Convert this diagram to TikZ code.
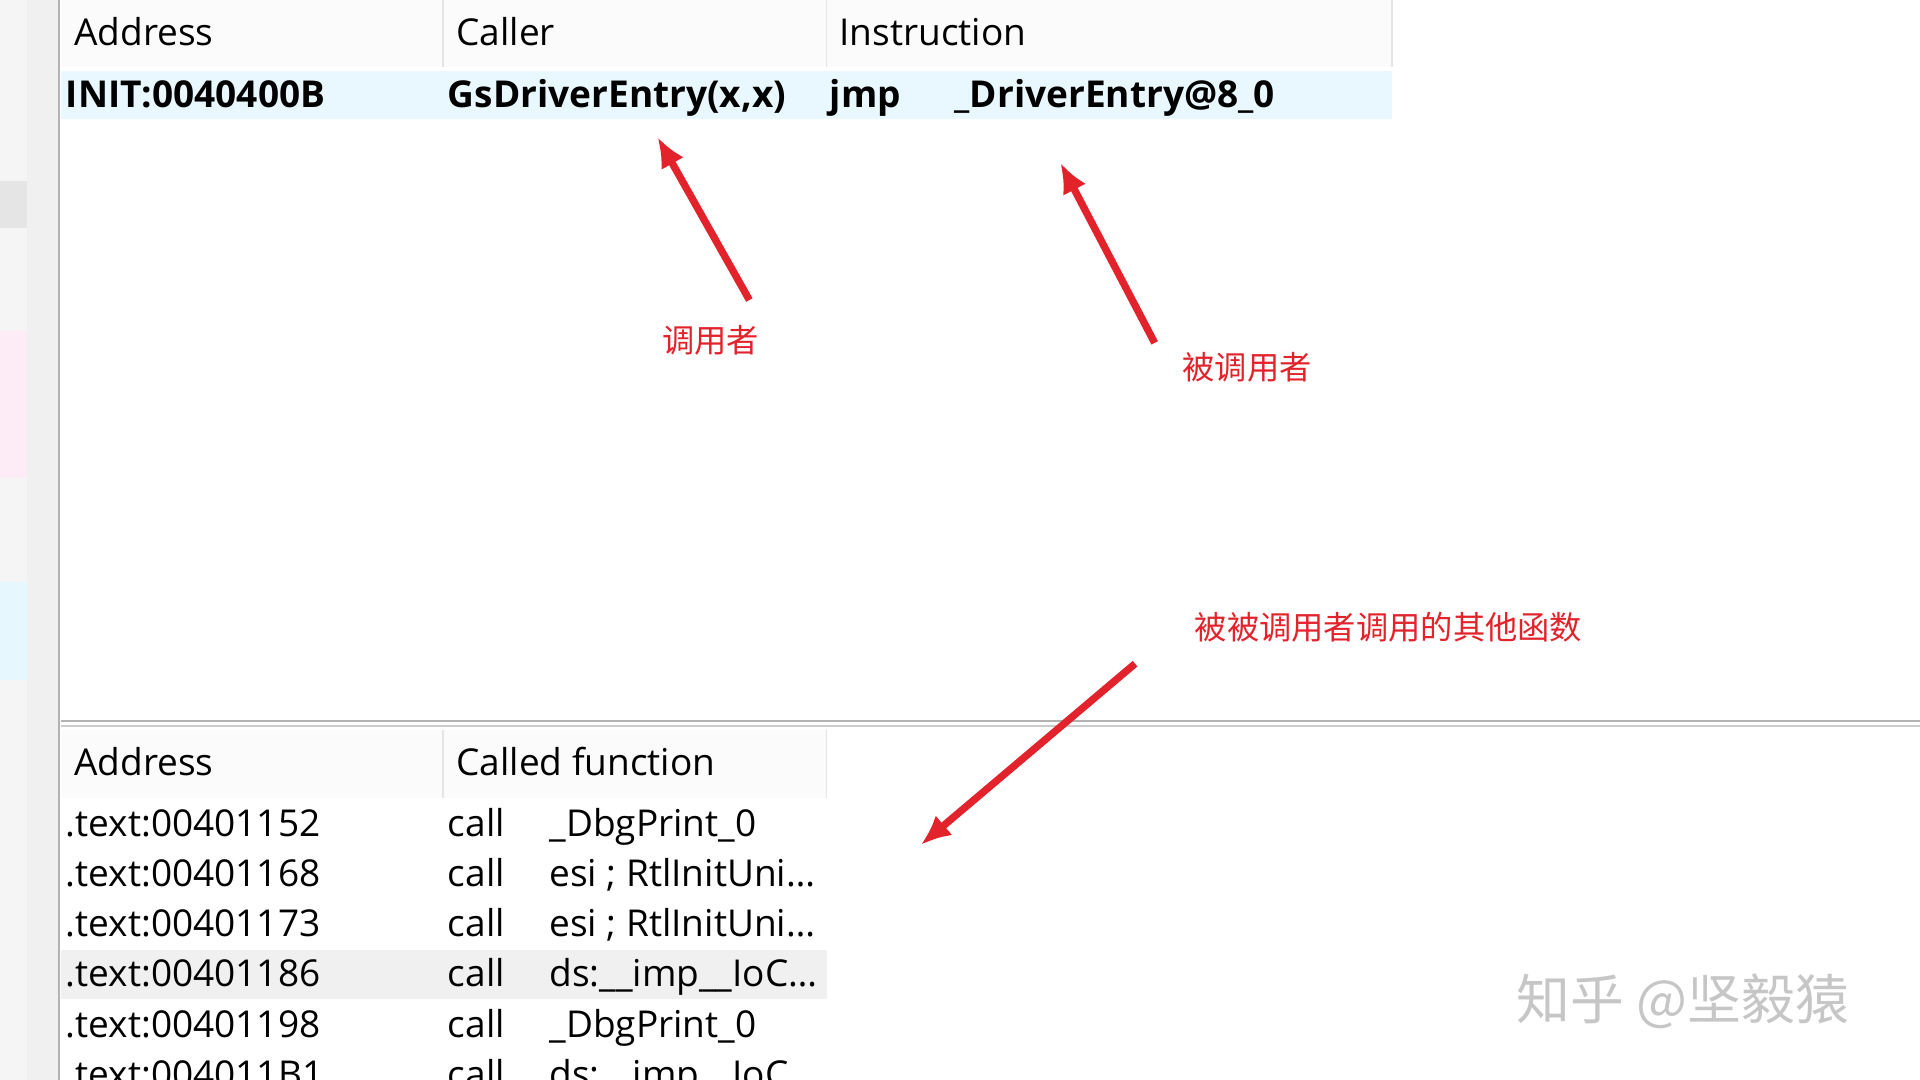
\documentclass[tikz,border=0pt]{standalone}
\usepackage{fontspec}
\setmainfont{Open Sans}
\newfontfamily\cjk{Noto Sans CJK SC}
\usetikzlibrary{arrows.meta}
\definecolor{ared}{HTML}{E3232C}
\begin{document}
\begin{tikzpicture}[x=0.01cm,y=-0.01cm,
  cell/.style={anchor=base west,inner sep=0pt,font=\fontsize{8.6}{10}\selectfont},
  bcell/.style={cell,font=\fontsize{8.6}{10}\selectfont\bfseries},
  note/.style={anchor=west,inner sep=0pt,text=ared,font=\cjk\fontsize{7.5}{9}\selectfont},
  arr/.style={draw=ared,line width=1.7pt,-{Latex[length=7pt,width=6pt]}}]
\useasboundingbox (0,0) rectangle (1568,882);
\clip (0,0) rectangle (1568,882);
\fill[white] (0,0) rectangle (1568,882);
% left strip
\fill[gray!8] (0,0) rectangle (22,882);
\fill[gray!20] (0,148) rectangle (22,186);
\fill[magenta!8] (0,270) rectangle (22,390);
\fill[cyan!10] (0,475) rectangle (22,555);
\fill[gray!12] (22,0) rectangle (48,882);
\draw[gray!60] (48,0) -- (48,882);
% top panel
\fill[gray!3] (50,0) rectangle (1137,55);
\draw[gray!20] (362,0) -- (362,55) (675,0) -- (675,55) (1137,0) -- (1137,55);
\fill[cyan!9] (50,58) rectangle (1137,97);
% divider
\draw[gray!60] (50,589) -- (1568,589);
\draw[gray!40] (50,593) -- (1568,593);
% bottom panel
\fill[gray!3] (50,596) rectangle (675,652);
\draw[gray!20] (362,596) -- (362,652) (675,596) -- (675,652);
\fill[gray!12] (50,776) rectangle (675,816);
% headers
\node[cell] (h1) at (60,37) {Address};
\node[cell] (h2) at (372,37) {Caller};
\node[cell] (h3) at (685,37) {Instruction};
\node[bcell] (r1a) at (53,88) {INIT:0040400B};
\node[bcell] (r1b) at (365,88) {GsDriverEntry(x,x)};
\node[bcell] (r1c) at (677,88) {jmp};
\node[bcell] (r1d) at (779,88) {\_DriverEntry@8\_0};
\node[cell] (b1) at (60,633) {Address};
\node[cell] (b2) at (372,633) {Called function};
\foreach \y/\a/\f [count=\i] in {683/.text:00401152/{\_DbgPrint\_0},724/.text:00401168/{esi ; RtlInitUni\ldots},765/.text:00401173/{esi ; RtlInitUni\ldots},806/.text:00401186/{ds:\_\_imp\_\_IoC\ldots},847/.text:00401198/{\_DbgPrint\_0},888/.text:004011B1/{ds:\_\_imp\_\_IoC\ldots}}{
  \node[cell] (ra\i) at (53,\y) {\a};
  \node[cell] (rc\i) at (365,\y) {call};
  \node[cell] (rf\i) at (448,\y) {\f};
}
% notes
\node[note] (n1) at (540,278) {调用者};
\node[note] (n2) at (965,300) {被调用者};
\node[note] (n3) at (975,512) {被被调用者调用的其他函数};
\coordinate (s1) at (612,245); \coordinate (e1) at (537,112);
\coordinate (s2) at (943,280); \coordinate (e2) at (866,133);
\coordinate (s3) at (927,542); \coordinate (e3) at (752,690);
\draw[arr] (s1) -- (e1);
\draw[arr] (s2) -- (e2);
\draw[arr] (s3) -- (e3);
\node[anchor=west,inner sep=0pt,text=gray!45,font=\cjk\fontsize{12.5}{14}\selectfont] (wm) at (1238,818) {知乎 @坚毅猿};
\end{tikzpicture}
\end{document}
